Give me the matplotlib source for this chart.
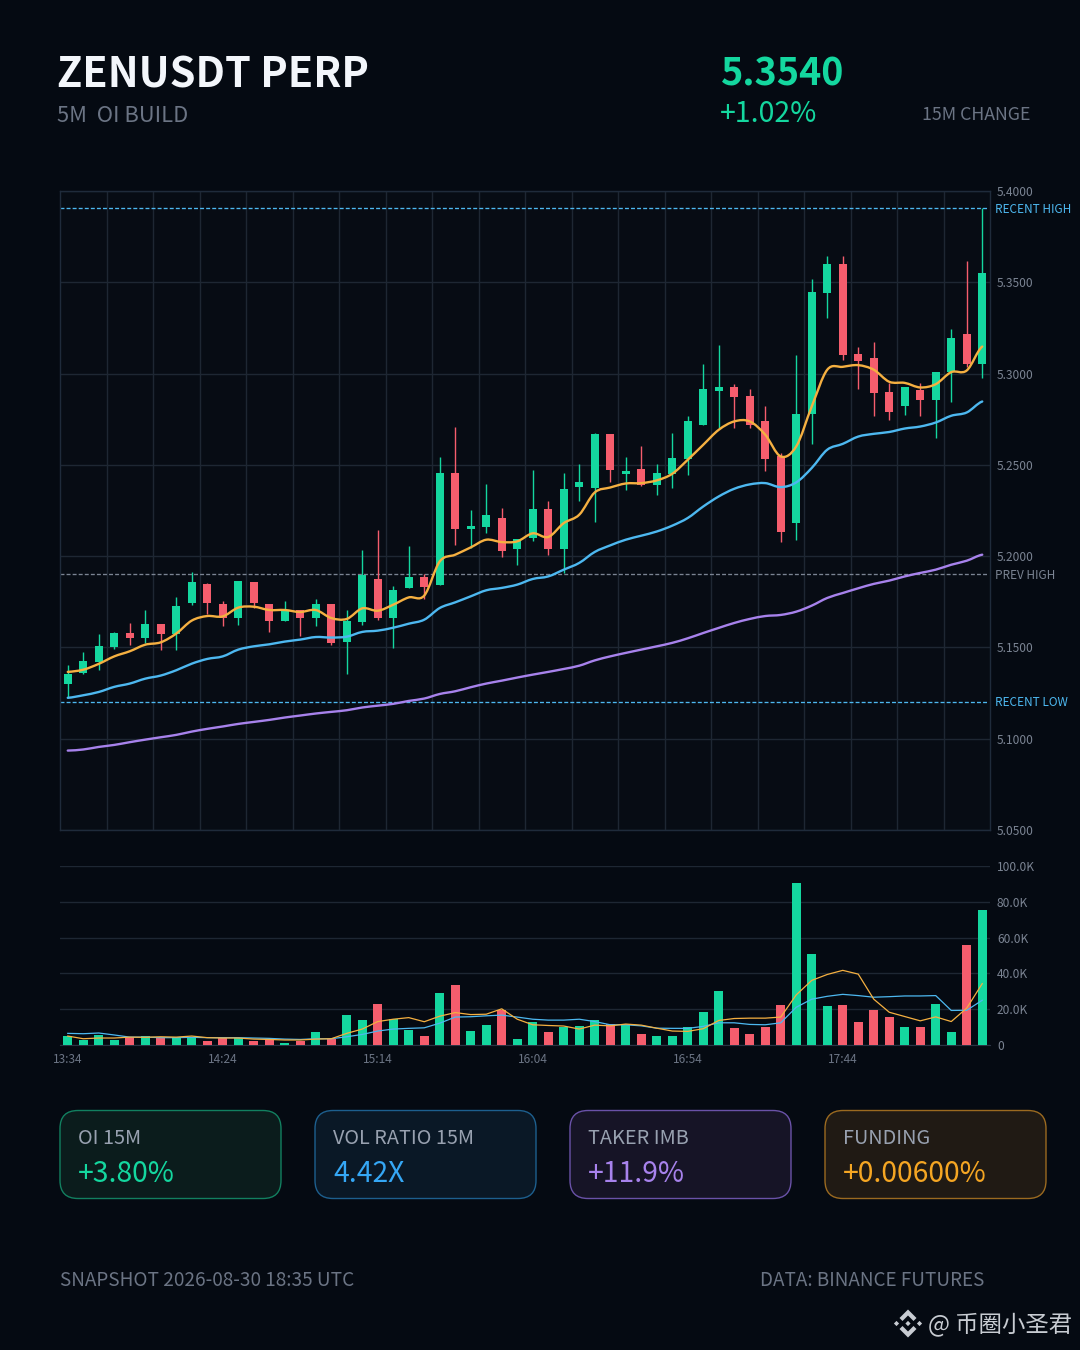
import matplotlib
matplotlib.use('Agg')
import matplotlib.pyplot as plt
from matplotlib.patches import FancyBboxPatch, PathPatch, Polygon
from matplotlib.path import Path

plt.rcParams['font.family'] = ['Noto Sans CJK SC', 'DejaVu Sans']

# Candles, 5 minute bars
opens = [5.1302, 5.1362, 5.1422, 5.1501, 5.1577, 5.1550, 5.1629, 5.1572, 5.1741, 5.1848,
         5.1738, 5.1661, 5.1856, 5.1738, 5.1643, 5.1705, 5.1661, 5.1738, 5.1532, 5.1641,
         5.1877, 5.1661, 5.1824, 5.1888, 5.1840, 5.2457, 5.2150, 5.2161, 5.2209, 5.2041,
         5.2101, 5.2258, 5.2041, 5.2380, 5.2371, 5.2669, 5.2451, 5.2479, 5.2391, 5.2451,
         5.2533, 5.2721, 5.2902, 5.2927, 5.2878, 5.2738, 5.2546, 5.2183, 5.2781, 5.3444,
         5.3599, 5.3108, 5.3088, 5.2898, 5.2823, 5.2909, 5.2853, 5.3006, 5.3218, 5.3053]
closes = [5.1357, 5.1428, 5.1508, 5.1577, 5.1550, 5.1626, 5.1572, 5.1727, 5.1856, 5.1741,
          5.1661, 5.1866, 5.1741, 5.1643, 5.1705, 5.1661, 5.1736, 5.1522, 5.1647, 5.1897,
          5.1661, 5.1816, 5.1888, 5.1831, 5.2457, 5.2150, 5.2167, 5.2227, 5.2030, 5.2096,
          5.2258, 5.2041, 5.2368, 5.2407, 5.2669, 5.2472, 5.2468, 5.2391, 5.2457, 5.2539,
          5.2738, 5.2917, 5.2927, 5.2873, 5.2721, 5.2533, 5.2132, 5.2778, 5.3447, 5.3599,
          5.3103, 5.3071, 5.2893, 5.2792, 5.2927, 5.2853, 5.3008, 5.3197, 5.3053, 5.3550]
highs = [5.1404, 5.1475, 5.1576, 5.1586, 5.1634, 5.1703, 5.1630, 5.1774, 5.1915, 5.1855,
         5.1755, 5.1866, 5.1860, 5.1740, 5.1755, 5.1707, 5.1765, 5.1740, 5.1705, 5.2035,
         5.2145, 5.1834, 5.2053, 5.1904, 5.2544, 5.2707, 5.2254, 5.2397, 5.2265, 5.2096,
         5.2473, 5.2303, 5.2455, 5.2504, 5.2674, 5.2670, 5.2544, 5.2605, 5.2504, 5.2674,
         5.2765, 5.3053, 5.3156, 5.2944, 5.2915, 5.2823, 5.2565, 5.3104, 5.3517, 5.3646,
         5.3646, 5.3146, 5.3174, 5.2946, 5.2927, 5.2946, 5.3008, 5.3245, 5.3617, 5.3906]
lows = [5.1225, 5.1355, 5.1375, 5.1493, 5.1515, 5.1525, 5.1484, 5.1484, 5.1734, 5.1685,
        5.1615, 5.1625, 5.1716, 5.1585, 5.1643, 5.1565, 5.1615, 5.1514, 5.1353, 5.1625,
        5.1652, 5.1499, 5.1824, 5.1765, 5.1840, 5.2063, 5.2045, 5.2125, 5.1993, 5.1953,
        5.2085, 5.2004, 5.1908, 5.2303, 5.2185, 5.2404, 5.2364, 5.2386, 5.2333, 5.2375,
        5.2446, 5.2721, 5.2703, 5.2703, 5.2703, 5.2464, 5.2075, 5.2086, 5.2615, 5.3307,
        5.3075, 5.2915, 5.2765, 5.2745, 5.2774, 5.2765, 5.2645, 5.2845, 5.3035, 5.2975]

# Moving averages on the price panel
ema_fast = [5.1366, 5.1378, 5.1410, 5.1451, 5.1479, 5.1515, 5.1528, 5.1576, 5.1647, 5.1672,
            5.1670, 5.1718, 5.1723, 5.1705, 5.1705, 5.1694, 5.1705, 5.1661, 5.1656, 5.1714,
            5.1701, 5.1734, 5.1774, 5.1784, 5.1971, 5.2008, 5.2048, 5.2090, 5.2077, 5.2081,
            5.2125, 5.2105, 5.2181, 5.2227, 5.2349, 5.2376, 5.2398, 5.2400, 5.2415, 5.2451,
            5.2528, 5.2610, 5.2692, 5.2738, 5.2738, 5.2665, 5.2546, 5.2601, 5.2820, 5.3021,
            5.3037, 5.3046, 5.3021, 5.2955, 5.2949, 5.2924, 5.2942, 5.3008, 5.3017, 5.3148]
ema_mid = [5.1224, 5.1238, 5.1256, 5.1284, 5.1302, 5.1329, 5.1346, 5.1375, 5.1411, 5.1437,
           5.1451, 5.1488, 5.1506, 5.1517, 5.1532, 5.1543, 5.1557, 5.1554, 5.1559, 5.1585,
           5.1592, 5.1608, 5.1630, 5.1652, 5.1716, 5.1747, 5.1780, 5.1813, 5.1826, 5.1844,
           5.1875, 5.1889, 5.1926, 5.1963, 5.2023, 5.2059, 5.2090, 5.2112, 5.2135, 5.2167,
           5.2209, 5.2272, 5.2327, 5.2369, 5.2393, 5.2400, 5.2378, 5.2404, 5.2483, 5.2583,
           5.2615, 5.2655, 5.2670, 5.2680, 5.2699, 5.2710, 5.2732, 5.2769, 5.2787, 5.2847]
ema_slow = [5.0935, 5.0941, 5.0955, 5.0966, 5.0981, 5.0995, 5.1008, 5.1021, 5.1039, 5.1054,
            5.1067, 5.1081, 5.1092, 5.1103, 5.1116, 5.1127, 5.1138, 5.1147, 5.1156, 5.1171,
            5.1181, 5.1191, 5.1207, 5.1220, 5.1245, 5.1260, 5.1282, 5.1302, 5.1318, 5.1335,
            5.1351, 5.1366, 5.1382, 5.1400, 5.1429, 5.1451, 5.1470, 5.1488, 5.1506, 5.1525,
            5.1550, 5.1579, 5.1607, 5.1634, 5.1656, 5.1672, 5.1678, 5.1696, 5.1729, 5.1771,
            5.1798, 5.1824, 5.1848, 5.1866, 5.1889, 5.1908, 5.1926, 5.1953, 5.1975, 5.2008]

# Volume in thousands
volume = [5.0, 2.6, 5.7, 3.0, 4.4, 5.0, 4.1, 4.4, 4.4, 2.0,
          3.7, 4.1, 2.4, 2.6, 1.1, 2.2, 7.4, 3.3, 17.0, 13.9,
          22.8, 14.3, 8.5, 5.2, 29.1, 33.3, 8.1, 10.9, 19.6, 3.3,
          13.1, 7.0, 10.0, 10.6, 13.9, 11.7, 11.3, 6.3, 4.8, 4.8,
          10.0, 18.5, 30.4, 9.3, 6.1, 10.2, 22.2, 90.4, 50.6, 21.9,
          22.2, 12.6, 19.6, 15.6, 9.8, 10.0, 22.8, 7.4, 55.7, 75.6]
vol_fast = [5.0, 3.5, 3.9, 3.9, 4.4, 4.3, 4.6, 4.4, 5.0, 4.1,
            3.9, 3.9, 3.3, 3.1, 2.8, 2.8, 3.3, 3.5, 6.5, 8.9,
            13.1, 14.4, 15.3, 13.0, 16.1, 18.1, 17.0, 17.2, 20.2, 14.4,
            11.3, 10.9, 10.6, 8.9, 11.1, 10.7, 11.7, 11.1, 9.4, 7.8,
            7.6, 9.1, 13.7, 14.8, 15.0, 15.0, 15.6, 28.0, 36.1, 39.4,
            41.7, 39.6, 25.6, 18.3, 15.9, 13.5, 15.7, 13.1, 20.6, 34.3]
vol_slow = [6.5, 6.3, 6.7, 5.6, 4.4, 4.4, 4.1, 4.1, 4.3, 4.1,
            4.1, 4.1, 3.9, 3.7, 3.3, 3.1, 3.5, 3.5, 4.6, 5.9,
            7.8, 8.9, 9.3, 9.6, 12.2, 15.6, 15.8, 16.3, 16.7, 15.6,
            14.4, 13.9, 13.9, 14.4, 13.1, 11.3, 11.3, 10.7, 9.4, 9.3,
            9.3, 10.4, 12.4, 12.4, 11.5, 11.3, 12.4, 21.1, 25.6, 27.2,
            28.3, 27.6, 26.7, 27.0, 27.4, 27.4, 27.6, 19.3, 19.4, 25.0]

price_ticks = [5.05, 5.10, 5.15, 5.20, 5.25, 5.30, 5.35, 5.40]
vol_ticks = [0, 20, 40, 60, 80, 100]
vol_tick_labels = ['0', '20.0K', '40.0K', '60.0K', '80.0K', '100.0K']
time_labels = ['13:34', '14:24', '15:14', '16:04', '16:54', '17:44']

level_names = ['RECENT HIGH', 'PREV HIGH', 'RECENT LOW']
level_prices = [5.3905, 5.1901, 5.1203]

card_labels = ['OI 15M', 'VOL RATIO 15M', 'TAKER IMB', 'FUNDING']
card_values = ['+3.80%', '4.42X', '+11.9%', '+0.00600%']

BG = '#050a12'
PANEL = '#070c14'
GRID = '#1e2733'
BORDER = '#1f2b3b'
GREEN = '#14d79f'
RED = '#f55d6d'
ORANGE = '#f5b041'
BLUE = '#4db8f0'
PURPLE = '#a782ec'
TICK = '#7b8493'
MUTED = '#6b7484'

card_colors = [
    ('#0b1c1c', '#128060', GREEN),
    ('#0a1826', '#1d5f8e', '#35a7f5'),
    ('#161426', '#6a52a8', PURPLE),
    ('#201a14', '#9b6a20', '#f5a623'),
]
card_left = [60, 315, 570, 825]


def smooth_path(ys):
    # Catmull-Rom through the read values so the averages draw as soft curves
    n = len(ys)
    verts = [(0, ys[0])]
    codes = [Path.MOVETO]
    for i in range(n - 1):
        y0 = ys[max(i - 1, 0)]
        y3 = ys[min(i + 2, n - 1)]
        verts += [(i + 1 / 3, ys[i] + (ys[i + 1] - y0) / 6),
                  (i + 2 / 3, ys[i + 1] - (y3 - ys[i]) / 6),
                  (i + 1, ys[i + 1])]
        codes += [Path.CURVE4] * 3
    return Path(verts, codes)


fig = plt.figure(figsize=(10.8, 13.5), dpi=100, facecolor=BG)

# Pixel canvas for the header, cards and footer
canvas = fig.add_axes([0, 0, 1, 1], zorder=0)
canvas.set_xlim(0, 1080)
canvas.set_ylim(1350, 0)
canvas.axis('off')

ax = fig.add_axes([60 / 1080, 1 - 830 / 1350, 930 / 1080, 639 / 1350], zorder=1, facecolor=PANEL)
ax_vol = fig.add_axes([60 / 1080, 1 - 1045 / 1350, 930 / 1080, 179 / 1350], zorder=1, facecolor=BG)

x = list(range(len(opens)))
colors = [GREEN if c >= o else RED for o, c in zip(opens, closes)]

# Price panel
ax.set_xlim(-0.5, 59.5)
ax.set_ylim(5.05, 5.40)
ax.set_xticks([-0.5 + 3 * i for i in range(1, 20)])
ax.set_yticks(price_ticks)
ax.set_yticklabels([f'{p:.4f}' for p in price_ticks])
ax.set_xticklabels([])
ax.yaxis.tick_right()
ax.tick_params(axis='x', length=0)
ax.tick_params(axis='y', length=0, pad=5, labelsize=8.6, labelcolor=TICK)
ax.grid(True, color=GRID, lw=1.0)
ax.set_axisbelow(True)
for s in ax.spines.values():
    s.set_color(BORDER)
    s.set_linewidth(1.0)

for name, level in zip(level_names, level_prices):
    c = TICK if name == 'PREV HIGH' else BLUE
    ax.plot([-0.5, 59.4], [level, level], color=c, lw=0.95, ls=(0, (3, 1.6)), zorder=2)
    ax.annotate(name, xy=(1, level), xycoords=('axes fraction', 'data'), xytext=(5, -1),
                textcoords='offset pixels', va='center', ha='left', fontsize=8.5,
                color=c, annotation_clip=False)

ax.vlines(x, lows, highs, colors=colors, lw=1.0, zorder=3)
ax.bar(x, [abs(c - o) for o, c in zip(opens, closes)], bottom=[min(o, c) for o, c in zip(opens, closes)],
       width=0.52, color=colors, linewidth=0, zorder=4)

for series, c in [(ema_slow, PURPLE), (ema_mid, BLUE), (ema_fast, ORANGE)]:
    ax.add_patch(PathPatch(smooth_path(series), fill=False, edgecolor=c, lw=1.7, zorder=5, capstyle='round'))

# Volume panel
ax_vol.set_xlim(-0.5, 59.5)
ax_vol.set_ylim(0, 100)
ax_vol.set_yticks(vol_ticks)
ax_vol.set_yticklabels(vol_tick_labels)
ax_vol.set_xticks(x[::10])
ax_vol.set_xticklabels(time_labels)
ax_vol.yaxis.tick_right()
ax_vol.tick_params(axis='y', length=0, pad=5, labelsize=8.6, labelcolor=TICK)
ax_vol.tick_params(axis='x', length=0, pad=6, labelsize=8.6, labelcolor=MUTED)
ax_vol.grid(True, axis='y', color=GRID, lw=1.0)
ax_vol.set_axisbelow(True)
for name in ['top', 'left', 'right']:
    ax_vol.spines[name].set_visible(False)
ax_vol.spines['bottom'].set_color('#2a3444')

ax_vol.bar(x, volume, width=0.56, color=colors, linewidth=0, zorder=3)
ax_vol.plot(x, vol_slow, color=BLUE, lw=0.9, zorder=4)
ax_vol.plot(x, vol_fast, color=ORANGE, lw=0.9, zorder=5)

# Header
canvas.text(57, 76, 'ZENUSDT PERP', fontsize=29.8, fontweight='bold', color='#f3f6fb', va='center', ha='left')
canvas.text(57, 116, '5M  OI BUILD', fontsize=15.8, color=MUTED, va='center', ha='left')
canvas.text(721, 74, '5.3540', fontsize=27.2, fontweight='bold', color=GREEN, va='center', ha='left')
canvas.text(720, 114, '+1.02%', fontsize=20.5, color=GREEN, va='center', ha='left')
canvas.text(1030, 115, '15M CHANGE', fontsize=12.8, color=MUTED, va='center', ha='right')

# Stat cards
for left, label, value, (face, edge, val_col) in zip(card_left, card_labels, card_values, card_colors):
    canvas.add_patch(FancyBboxPatch((left, 1110.5), 221, 88, boxstyle='round,pad=0,rounding_size=18',
                                    facecolor=face, edgecolor=edge, lw=1.0))
    canvas.text(left + 18, 1138.5, label, fontsize=14.3, color='#98a1b0', va='center', ha='left')
    canvas.text(left + 18, 1174, value, fontsize=20.4, color=val_col, va='center', ha='left')

# Footer
canvas.text(60, 1281, 'SNAPSHOT 2026-08-30 18:35 UTC', fontsize=13.7, color=MUTED, va='center', ha='left')
canvas.text(760, 1281, 'DATA: BINANCE FUTURES', fontsize=13.6, color=MUTED, va='center', ha='left')

# Watermark
WM = '#c8ccd2'
cx, cy = 908, 1323.5
for dx in (-11.5, 0, 11.5):
    canvas.add_patch(Polygon([(cx + dx, cy - 2.6), (cx + dx + 2.6, cy), (cx + dx, cy + 2.6), (cx + dx - 2.6, cy)],
                             closed=True, facecolor=WM, edgecolor='none'))
for sign in (-1, 1):
    canvas.add_patch(Polygon([(cx, cy + sign * 14), (cx + 8.5, cy + sign * 5.5), (cx + 5.5, cy + sign * 2.5),
                              (cx, cy + sign * 8), (cx - 5.5, cy + sign * 2.5), (cx - 8.5, cy + sign * 5.5)],
                             closed=True, facecolor=WM, edgecolor='none'))
canvas.text(928, 1324, '@ 币圈小圣君', fontsize=16.8, color=WM, va='center', ha='left')

fig.savefig('out.png', dpi=100, facecolor=BG)
